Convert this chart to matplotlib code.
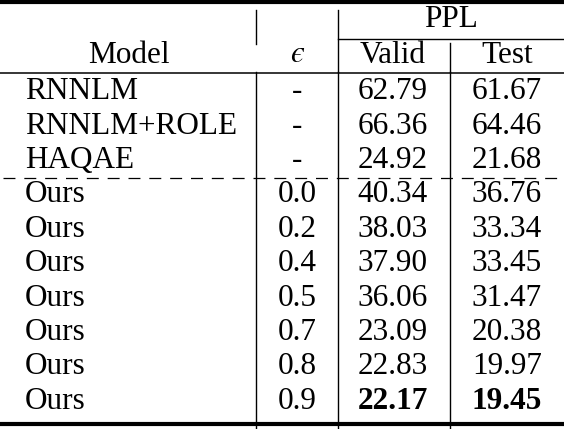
import matplotlib.pyplot as plt

models = ["RNNLM", "RNNLM+ROLE", "HAQAE", "Ours", "Ours", "Ours", "Ours", "Ours", "Ours", "Ours"]
eps = ["-", "-", "-", "0.0", "0.2", "0.4", "0.5", "0.7", "0.8", "0.9"]
valid = ["62.79", "66.36", "24.92", "40.34", "38.03", "37.90", "36.06", "23.09", "22.83", "22.17"]
test = ["61.67", "64.46", "21.68", "36.76", "33.34", "33.45", "31.47", "20.38", "19.97", "19.45"]
best_row = 9

plt.rcParams['font.family'] = ['Liberation Serif', 'DejaVu Serif']
plt.rcParams['mathtext.fontset'] = 'stix'
plt.rcParams['lines.scale_dashes'] = False

W, H = 564, 429
fig = plt.figure(figsize=(W / 100, H / 100), dpi=100)
ax = fig.add_axes([0, 0, 1, 1])
ax.set_xlim(0, W)
ax.set_ylim(H, 0)
ax.axis('off')

fs = 22.5
x1, x2, x3 = 255.5, 337.5, 449.5
col_eps = (x1 + x2) / 2 + 1
col_valid = (x2 + x3) / 2 - 1
col_test = (x3 + W) / 2

# rules
ax.plot([0, W], [2, 2], color='black', lw=3.0, solid_capstyle='butt')
ax.plot([x2, W], [38.5, 38.5], color='black', lw=1.0)
ax.plot([0, W], [72.5, 72.5], color='black', lw=1.1)
ax.plot([3, W], [177.5, 177.5], color='black', lw=0.9, linestyle=(0, (8.6, 6.4)))
ax.plot([0, W], [424, 424], color='black', lw=3.0, solid_capstyle='butt')

# verticals
ax.plot([x1, x1], [10, 43.5], color='black', lw=1.0)
ax.plot([x2, x2], [10, 72], color='black', lw=1.0)
ax.plot([x3, x3], [43, 72], color='black', lw=1.0)
for x in (x1, x2, x3):
    ax.plot([x, x], [72, H], color='black', lw=1.0)

# header
ax.text((x2 + W) / 2, 26.7, "PPL", fontsize=fs, ha='center', va='baseline')
ax.text(128.5, 63.3, "Model", fontsize=fs, ha='center', va='baseline')
ax.text(col_eps, 62, "$\u03f5$", fontsize=fs, ha='center', va='baseline')
ax.text(col_valid, 63.3, "Valid", fontsize=fs, ha='center', va='baseline')
ax.text(col_test, 63.3, "Test", fontsize=fs, ha='center', va='baseline')

y0, step = 99.3, 34.4
for i in range(len(models)):
    y = y0 + i * step
    w = 'bold' if i == best_row else 'normal'
    ax.text(25, y, models[i], fontsize=fs, ha='left', va='baseline')
    ax.text(col_eps, y, eps[i], fontsize=fs, ha='center', va='baseline')
    ax.text(col_valid, y, valid[i], fontsize=fs, ha='center', va='baseline', weight=w)
    ax.text(col_test, y, test[i], fontsize=fs, ha='center', va='baseline', weight=w)

fig.savefig("out.png", dpi=100)
